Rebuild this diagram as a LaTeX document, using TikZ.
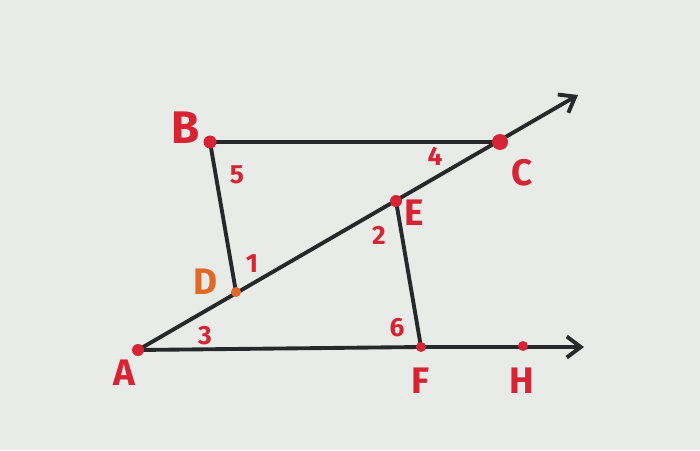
\documentclass[tikz,border=0pt]{standalone}
\usepackage{fontspec}
\setmainfont{Fira Sans}
\usetikzlibrary{arrows.meta}
\definecolor{paper}{RGB}{232,235,231}
\definecolor{ink}{RGB}{38,40,42}
\definecolor{pen}{RGB}{214,36,52}
\definecolor{dpen}{RGB}{226,104,40}

\begin{document}
\begin{tikzpicture}[x=0.02cm,y=-0.02cm]
\tikzset{seg/.style={ink, line width=2.2pt, line cap=round},
  lab/.style={pen, font=\fontsize{21}{21}\selectfont\bfseries},
  num/.style={pen, font=\fontsize{15}{15}\selectfont\bfseries}}
\fill[paper] (0,0) rectangle (700,450);
% points
\coordinate (A) at (138,350);
\coordinate (B) at (210,142);
\coordinate (C) at (500,142);
\coordinate (D) at (236,292);
\coordinate (E) at (396,201);
\coordinate (F) at (421,347);
\coordinate (H) at (523,346);
\coordinate (R1) at (578,95);
\coordinate (R2) at (584,347);
% lines
\draw[seg] (B) -- (C);
\draw[seg] (B) -- (D);
\draw[seg] (E) -- (F);
\draw[seg,-{Straight Barb[length=8pt,width=12pt]}] (A) -- (R1);
\draw[seg,-{Straight Barb[length=8pt,width=12pt]}] (A) -- (F) -- (R2);
% dots
\fill[pen] (A) circle (6);
\fill[pen] (B) circle (6.5);
\fill[pen] (C) circle (8);
\fill[dpen] (D) circle (5);
\fill[pen] (E) circle (6);
\fill[pen] (F) circle (5);
\fill[pen] (H) circle (5);
% letters
\node[lab] (labA) at (124,373) {A};
\node[lab,font=\fontsize{26}{26}\selectfont\bfseries] (labB) at (186,128) {B};
\node[lab] (labC) at (522,173) {C};
\node[lab,dpen] (labD) at (206,282) {D};
\node[lab] (labE) at (414,213) {E};
\node[lab] (labF) at (420,381) {F};
\node[lab] (labH) at (522,381) {H};
% angles
\node[num] (n5) at (237,175) {5};
\node[num] (n4) at (435,156) {4};
\node[num] (n1) at (252,264) {1};
\node[num] (n2) at (379,235) {2};
\node[num] (n3) at (205,336) {3};
\node[num] (n6) at (397,328) {6};
\end{tikzpicture}
\end{document}
